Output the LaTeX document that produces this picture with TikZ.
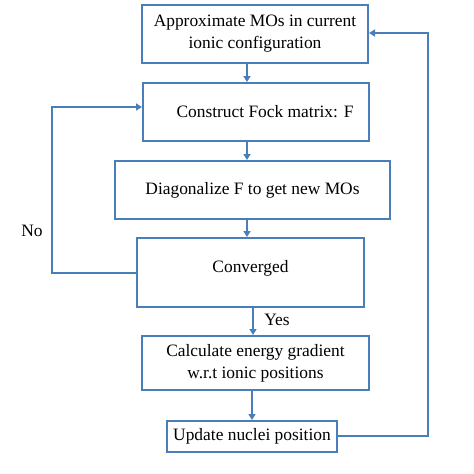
\documentclass[tikz,border=0pt]{standalone}
\usepackage{fontspec}
\setmainfont{Liberation Serif}
\usetikzlibrary{arrows.meta}
\definecolor{lineblue}{HTML}{4A7EBB}
\begin{document}
\begin{tikzpicture}[x=1pt,y=-1pt,
  box/.style={draw=lineblue,line width=2pt,fill=white,align=center,inner sep=0pt,
    font=\fontsize{17.4}{22}\selectfont,text=black},
  conn/.style={draw=lineblue,line width=2pt,-{Triangle[length=6pt,width=7pt]}},
  lbl/.style={font=\fontsize{17.4}{22}\selectfont,text=black}]
\useasboundingbox (0,0) rectangle (474,474);
\node[box,minimum width=226pt,minimum height=58pt] (b1) at (255,34) {Approximate MOs in current\\ionic configuration};
\node[box,minimum width=226pt,minimum height=58pt] (b2) at (256,112) {\hspace*{18pt}Construct Fock matrix: F};
\node[box,minimum width=275pt,minimum height=58pt] (b3) at (252.5,190) {Diagonalize F to get new MOs};
\node[box,minimum width=227pt,minimum height=69pt,text depth=12pt] (b4) at (250.5,272.5) {Converged};
\node[box,minimum width=227pt,minimum height=54pt] (b5) at (255.5,363) {Calculate energy gradient\\w.r.t ionic positions};
\node[box,minimum width=170pt,minimum height=31pt] (b6) at (252,436.5) {Update nuclei position};
\draw[conn] (b1.south -| 247,0) -- (b2.north -| 247,0);
\draw[conn] (b2.south -| 247,0) -- (b3.north -| 247,0);
\draw[conn] (b3.south -| 247,0) -- (b4.north -| 247,0);
\draw[conn] (b4.south -| 253,0) -- (b5.north -| 253,0);
\draw[conn] (b5.south -| 252,0) -- (b6.north -| 252,0);
\coordinate (r1) at (428,436);
\coordinate (r2) at (428,33);
\draw[conn] (b6.east |- r1) -- (r1) -- (r2) -- (b1.east |- r2);
\coordinate (l1) at (52,273);
\coordinate (l2) at (52,107);
\draw[conn] (b4.west |- l1) -- (l1) -- (l2) -- (b2.west |- l2);
\node[lbl] (no) at (32,231) {No};
\node[lbl] (yes) at (277,320) {Yes};
\end{tikzpicture}
\end{document}
